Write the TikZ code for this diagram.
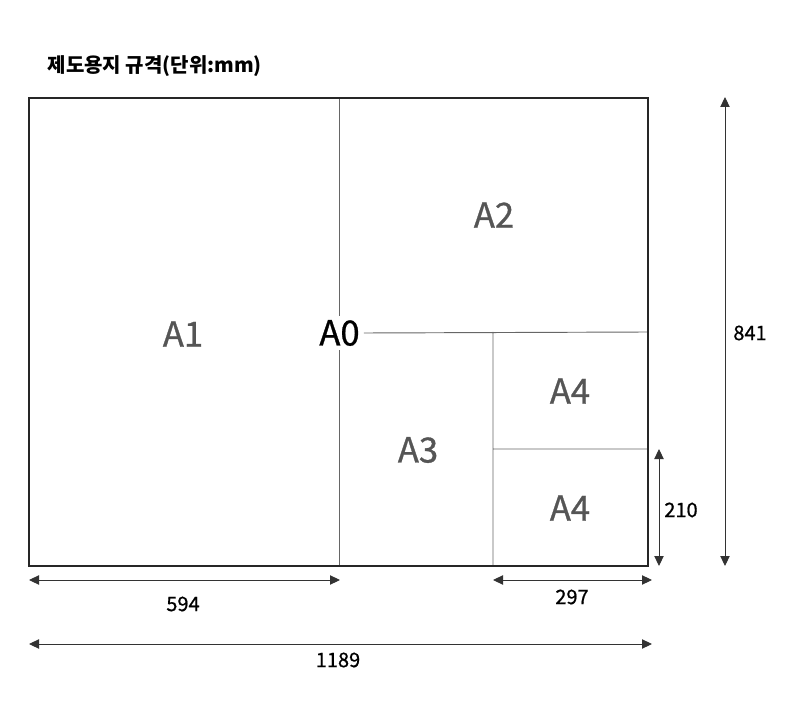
\documentclass[tikz,border=0pt]{standalone}
\usepackage{fontspec}
\setmainfont{Noto Sans CJK KR}
\newfontfamily\medfont{Noto Sans CJK KR}[FakeBold=0.8]
\usetikzlibrary{arrows.meta}
\definecolor{papergray}{HTML}{555555}
\definecolor{linegray}{HTML}{666666}

\begin{document}
\begin{tikzpicture}[x=0.75pt,y=-0.75pt,
  sheet/.style={line width=1.6pt,draw=black!85},
  cut/.style={line width=0.7pt,draw=linegray},
  dim/.style={line width=0.7pt,draw=black!80,{Triangle[length=7.5pt,width=7pt]}-{Triangle[length=7.5pt,width=7pt]}},
  size/.style={font=\medfont\fontsize{26}{30}\selectfont,text=papergray},
  num/.style={font=\medfont\fontsize{15}{18}\selectfont}]

\useasboundingbox (0,0) rectangle (800,727);

% corners of the sheet
\coordinate (p0) at (29,98);
\coordinate (p1) at (648,98);
\coordinate (p2) at (648,566);
\coordinate (p3) at (29,566);

\coordinate (m0) at (339,98);
\coordinate (m1) at (339,566);
\coordinate (h1) at (648,332);
\coordinate (q0) at (493,332);
\coordinate (q1) at (493,566);
\coordinate (r0) at (493,449);
\coordinate (r1) at (648,449);

\node[anchor=west,font=\fontsize{15}{18}\selectfont\bfseries] (title) at (43,66) {제도용지 규격(단위:mm)};

\draw[cut] (m0)--(m1);
\node[font=\medfont\fontsize{26}{30}\selectfont,fill=white,inner sep=3pt] (a0) at (339.5,333) {A0};
\draw[cut] (a0.east)--(h1) (q0)--(q1) (r0)--(r1);
\draw[sheet] (p0)--(p1)--(p2)--(p3)--cycle;

\node[size] (a1) at (183,334) {A1};
\node[size] (a2) at (494,215) {A2};
\node[size] (a3) at (418,450) {A3};
\node[size] (a4u) at (570,391) {A4};
\node[size] (a4l) at (570,508) {A4};

% dimensions
\coordinate (d0) at (29,580);
\coordinate (d1) at (340,580);
\coordinate (d2) at (493,580);
\coordinate (d3) at (652,580);
\coordinate (d4) at (29,644);
\coordinate (d5) at (652,644);
\coordinate (d6) at (659,449);
\coordinate (d7) at (659,566);
\coordinate (d8) at (725,97);
\coordinate (d9) at (725,566);

\draw[dim] (d0)--(d1);
\draw[dim] (d2)--(d3);
\draw[dim] (d4)--(d5);
\draw[dim] (d6)--(d7);
\draw[dim] (d8)--(d9);

\node[num] (n594) at (183,604) {594};
\node[num] (n297) at (572,597) {297};
\node[num] (n1189) at (338,660) {1189};
\node[num] (n210) at (681,510) {210};
\node[num] (n841) at (750,333) {841};
\end{tikzpicture}
\end{document}
